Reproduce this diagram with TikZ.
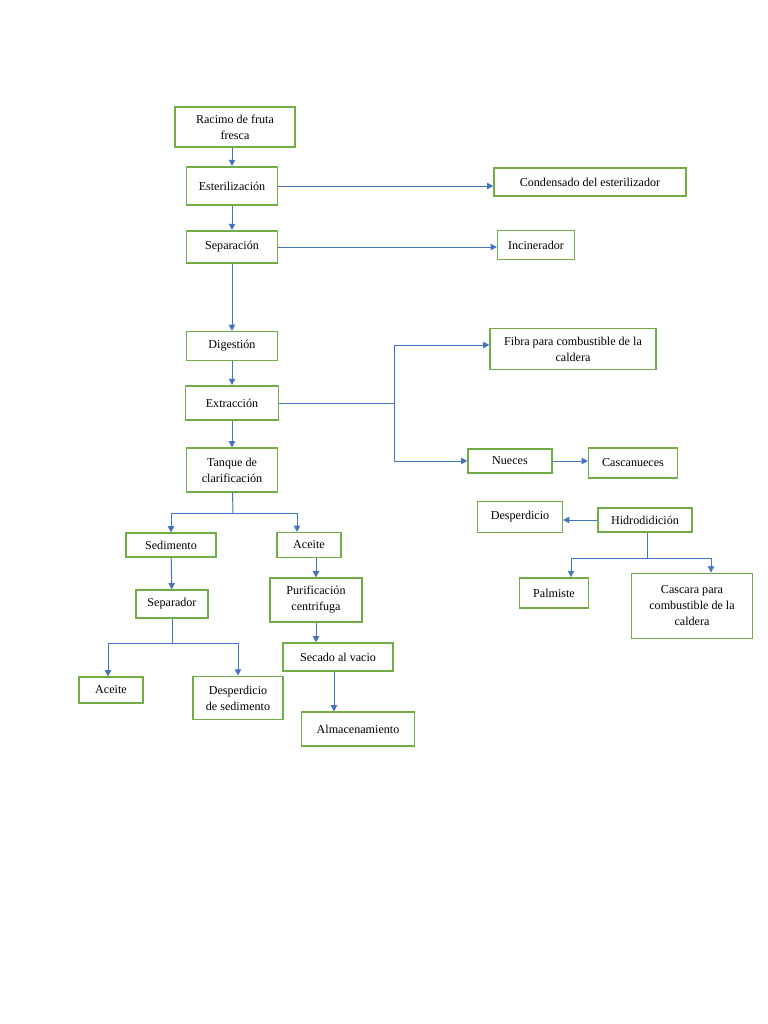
\documentclass[tikz,border=0pt]{standalone}
\usepackage{fontspec}
\setmainfont{Liberation Serif}
\usetikzlibrary{arrows.meta}
\definecolor{verde}{RGB}{112,173,71}
\definecolor{azul}{RGB}{68,114,196}
\tikzset{
  paso/.style={draw=verde, line width=.8pt, inner sep=1pt, align=center,
    font=\fontsize{8.6}{11.4}\selectfont},
  pasog/.style={paso, line width=1.3pt},
  flecha/.style={draw=azul, line width=.7pt, -{Triangle[length=4.5pt,width=4.5pt]}},
  linea/.style={draw=azul, line width=.7pt}
}
\begin{document}
\begin{tikzpicture}[x=0.025cm, y=-0.025cm]
      \fill[white] (0,0) rectangle (768,1024);

      % linea principal
      \node[paso, minimum width=3cm, minimum height=1cm] (racimo) at (235,127) {Racimo de fruta\\fresca};
      \node[pasog, minimum width=2.275cm, minimum height=.95cm] (ester) at (232,186) {Esterilización};
      \node[pasog, minimum width=2.275cm, minimum height=.8cm] (separacion) at (232,247) {Separación};
      \node[paso, minimum width=2.275cm, minimum height=.725cm] (digestion) at (232,346) {Digestión};
      \node[pasog, minimum width=2.325cm, minimum height=.85cm] (extraccion) at (232,403) {Extracción};
      \node[paso, minimum width=2.275cm, minimum height=1.1cm] (tanque) at (232,470) {Tanque de\\clarificación};

      % salidas a la derecha
      \node[paso, minimum width=4.8cm, minimum height=.7cm] (condensado) at (590,182) {Condensado del esterilizador};
      \node[paso, minimum width=1.925cm, minimum height=.725cm] (incinerador) at (536,245) {Incinerador};
      \node[paso, minimum width=4.15cm, minimum height=1.025cm] (fibra) at (573,349) {Fibra para combustible de la\\caldera};
      \node[paso, minimum width=2.1cm, minimum height=.6cm] (nueces) at (510,461) {Nueces};
      \node[paso, minimum width=2.225cm, minimum height=.75cm] (cascanueces) at (633,463) {Cascanueces};
      \node[paso, minimum width=2.125cm, minimum height=.775cm] (desperdicio) at (520,517) {Desperdicio};
      \node[paso, minimum width=2.35cm, minimum height=.6cm] (hidro) at (645,520) {Hidrodidición};
      \node[pasog, minimum width=1.725cm, minimum height=.75cm] (palmiste) at (554,593) {Palmiste};
      \node[pasog, minimum width=3.025cm, minimum height=1.625cm] (cascara) at (692,606) {Cascara para\\combustible de la\\caldera};

      % tanque hacia abajo
      \node[paso, minimum width=2.25cm, minimum height=.6cm] (sedimento) at (171,545) {Sedimento};
      \node[paso, minimum width=1.6cm, minimum height=.625cm] (aceite1) at (309,545) {Aceite};
      \node[paso, minimum width=1.8cm, minimum height=.7cm] (separador) at (172,604) {Separador};
      \node[paso, minimum width=2.3cm, minimum height=1.1cm] (purificacion) at (316,600) {Purificación\\centrifuga};
      \node[paso, minimum width=2.75cm, minimum height=.7cm] (secado) at (338,657) {Secado al vacio};
      \node[paso, minimum width=1.6cm, minimum height=.65cm] (aceite2) at (111,690) {Aceite};
      \node[pasog, minimum width=2.25cm, minimum height=1.075cm] (dsedimento) at (238,698) {Desperdicio\\de sedimento};
      \node[paso, minimum width=2.825cm, minimum height=.85cm] (almacen) at (358,729) {Almacenamiento};

      % puntos de ramificacion
      \coordinate (n1) at (394,403);
      \coordinate (n2) at (233,513);
      \coordinate (n3) at (172,643);
      \coordinate (n4) at (647,558);
      \coordinate (a1) at (297,513);
      \coordinate (p1) at (571,558);
      \coordinate (c1) at (711,558);
      \coordinate (s1) at (334,0);

      \draw[flecha] (racimo.south -| ester.north) -- (ester.north);
      \draw[flecha] (ester) -- (separacion);
      \draw[flecha] (separacion) -- (digestion);
      \draw[flecha] (digestion) -- (extraccion);
      \draw[flecha] (extraccion) -- (tanque);

      \draw[flecha] (ester.east) -- (ester.east -| condensado.west);
      \draw[flecha] (separacion.east) -- (separacion.east -| incinerador.west);

      % extraccion
      \draw[linea] (extraccion.east) -- (n1);
      \draw[flecha] (n1) |- ([yshift=.1cm]fibra.west);
      \draw[flecha] (n1) |- (nueces.west);
      \draw[flecha] (nueces.east) -- (nueces.east -| cascanueces.west);

      % hidrodidicion
      \draw[flecha] (hidro.west) -- (hidro.west -| desperdicio.east);
      \draw[linea] (hidro.south -| n4) -- (n4);
      \draw[linea] (p1) -- (c1);
      \draw[flecha] (p1) -- (p1 |- palmiste.north);
      \draw[flecha] (c1) -- (c1 |- cascara.north);

      % tanque
      \draw[linea] (tanque) -- (n2);
      \draw[flecha] (n2) -| (sedimento.north);
      \draw[flecha] (n2) -- (a1) -- (a1 |- aceite1.north);
      \draw[flecha] (sedimento) -- (separador);
      \draw[linea] (separador) -- (n3);
      \draw[flecha] (n3) -| ([xshift=-.075cm]aceite2.north);
      \draw[flecha] (n3) -| (dsedimento.north);

      % aceite
      \draw[flecha] (aceite1.south -| purificacion.north) -- (purificacion.north);
      \draw[flecha] (purificacion.south) -- (purificacion.south |- secado.north);
      \draw[flecha] (secado.south -| s1) -- (s1 |- almacen.north);
\end{tikzpicture}
\end{document}
